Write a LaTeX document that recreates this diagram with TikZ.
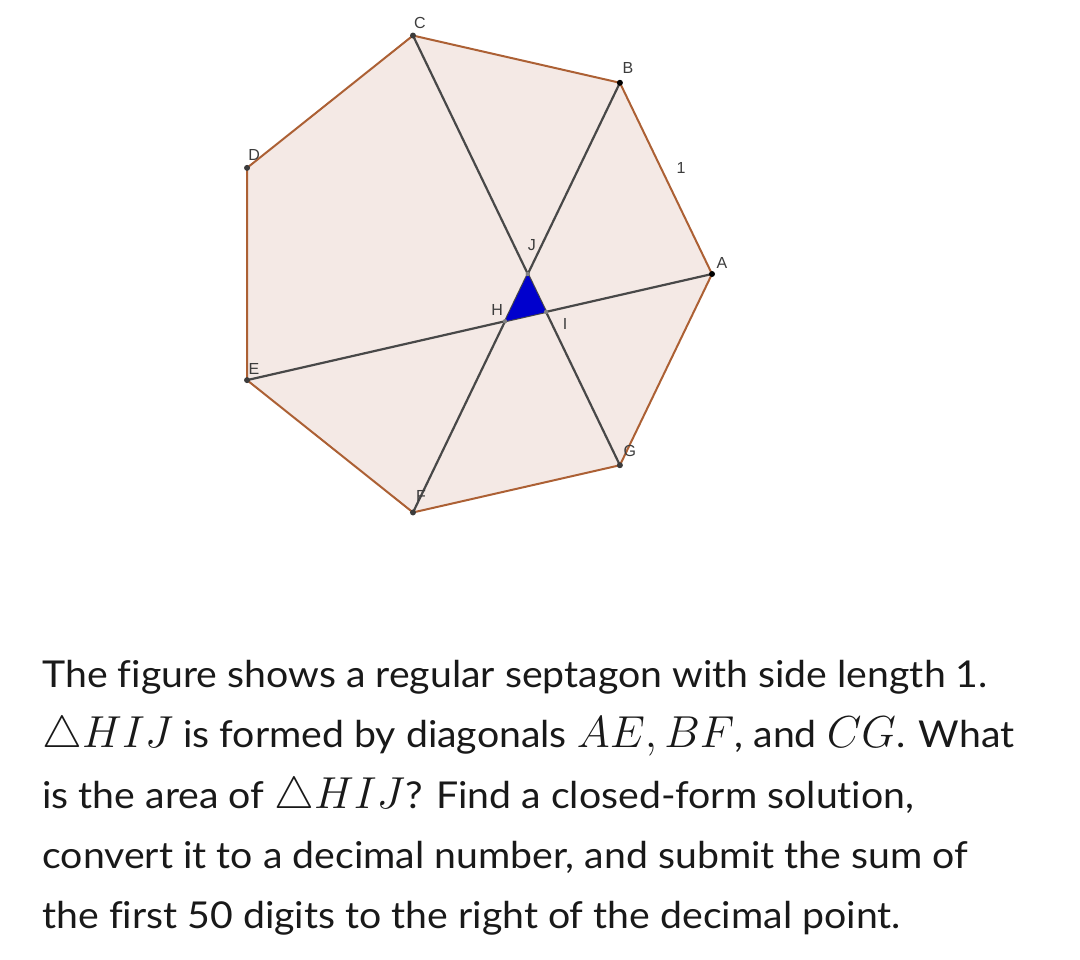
\RequirePackage{fix-cm}
\documentclass[tikz,border=0pt]{standalone}
\usepackage{amsmath}
\usepackage{amssymb}
\usepackage{fontspec}
\setmainfont{Lato}[Ligatures=NoCommon, FakeStretch=1.06]
\newfontfamily\ggbfont{Liberation Sans}
\usepackage{tikz}
\usetikzlibrary{calc}

\definecolor{polyfill}{RGB}{244,233,229}
\definecolor{polyedge}{RGB}{172,96,52}
\definecolor{diag}{RGB}{72,72,72}
\definecolor{ptgray}{RGB}{60,60,60}
\definecolor{hijblue}{RGB}{0,0,205}

% math set a bit larger than the text around it
\newcommand{\mth}[1]{{\fontsize{22.4}{30}\selectfont$#1$}}

\begin{document}
\begin{tikzpicture}[x=0.5pt, y=-0.5pt,
  edge/.style={polyedge, line width=1pt, line join=round},
  diagonal/.style={diag, line width=1.1pt},
  lbl/.style={font=\ggbfont\fontsize{8}{9}\selectfont, text=ptgray, inner sep=0pt},
  txt/.style={anchor=base west, inner sep=0pt, font=\fontsize{18.5}{30}\selectfont, text=black!90}]
\useasboundingbox (0,0) rectangle (1080,959);
% vertices of the septagon
\foreach \n [count=\k from 0] in {A,B,C,D,E,F,G}
  \coordinate (\n) at ({467.4+244.6*cos(\k*360/7)}, {274-244.6*sin(\k*360/7)});
\fill[polyfill] (A)--(B)--(C)--(D)--(E)--(F)--(G)--cycle;
\draw[diagonal] (A)--(E);
\draw[diagonal] (B)--(F);
\draw[diagonal] (C)--(G);
\draw[edge] (A)--(B)--(C)--(D)--(E)--(F)--(G)--cycle;
% inner triangle
\coordinate (H) at (intersection of A--E and B--F);
\coordinate (I) at (intersection of A--E and C--G);
\coordinate (J) at (intersection of B--F and C--G);
\fill[hijblue] (H)--(I)--(J)--cycle;
\foreach \p in {H,I,J} \fill[gray] (\p) circle (2.2);
\foreach \p in {C,D,E,F,G} \fill[ptgray] (\p) circle (3);
\foreach \p in {A,B} \fill[black] (\p) circle (3);
% labels
\node[lbl] (labA) at ($(A)+(10,-11)$) {A};
\node[lbl] (labB) at ($(B)+(8,-15)$) {B};
\node[lbl] (labC) at ($(C)+(7,-13)$) {C};
\node[lbl] (labD) at ($(D)+(7,-13)$) {D};
\node[lbl] (labE) at ($(E)+(7,-11)$) {E};
\node[lbl] (labF) at ($(F)+(8,-16)$) {F};
\node[lbl] (labG) at ($(G)+(10,-14)$) {G};
\node[lbl] (labH) at ($(H)+(-8,-11)$) {H};
\node[lbl] (labI) at ($(I)+(19,12)$) {I};
\node[lbl] (labJ) at ($(J)+(4,-29)$) {J};
\node[lbl] (side) at ($(A)!0.5!(B)+(15,-10)$) {1};
% question text
\node[txt] (q1) at (42,687) {The figure shows a regular septagon with side length 1.};
\node[txt] (q2) at (42,747) {\mth{\triangle HIJ} is formed by diagonals \mth{AE, BF}, and \mth{CG}. What};
\node[txt] (q3) at (42,808) {is the area of \mth{\triangle HIJ}? Find a closed-form solution,};
\node[txt] (q4) at (42,868) {convert it to a decimal number, and submit the sum of};
\node[txt] (q5) at (42,928) {the first 50 digits to the right of the decimal point.};
\end{tikzpicture}
\end{document}
